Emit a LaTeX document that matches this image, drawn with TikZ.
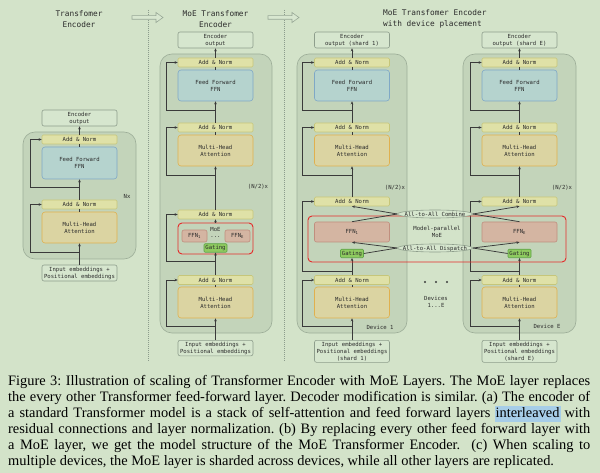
\documentclass[tikz,border=0pt]{standalone}
\usepackage{fontspec}
\setmainfont{Liberation Serif}
\newfontfamily\monof{DejaVu Sans Mono}
\usetikzlibrary{arrows.meta,shapes.geometric}
\definecolor{bgc}{HTML}{D3E3C9}
\definecolor{panf}{HTML}{C3D4BA}
\definecolor{pand}{HTML}{9DAE98}
\definecolor{plainf}{HTML}{D6E6CE}
\definecolor{plaind}{HTML}{8E9E8C}
\definecolor{anf}{HTML}{DFE1A7}
\definecolor{anbd}{HTML}{C6C67A}
\definecolor{ffnf}{HTML}{B5D3CE}
\definecolor{ffnd}{HTML}{7FA8C6}
\definecolor{mhaf}{HTML}{DBD4A2}
\definecolor{mhad}{HTML}{E0B04E}
\definecolor{expf}{HTML}{D4B5A2}
\definecolor{expd}{HTML}{C08E7E}
\definecolor{gatef}{HTML}{8FCB60}
\definecolor{gated}{HTML}{5DA346}
\definecolor{redc}{HTML}{E52A2A}
\definecolor{txtc}{HTML}{2B2B2B}
\definecolor{linec}{HTML}{3A3A3A}
\definecolor{harrf}{HTML}{D8E7D0}
\definecolor{harrd}{HTML}{98A896}
\definecolor{sepc}{HTML}{8C9C8C}
\definecolor{hlc}{HTML}{A6CDE8}
\newcommand\bxf{\monof\fontsize{5.6}{7}\selectfont}
\newcommand\ttlf{\monof\fontsize{7.8}{10.7}\selectfont}
\newcommand\capf{\fontsize{14.4}{16}\selectfont}
\newcommand\ellt[1]{\smash{\makebox[0pt]{\raisebox{-0.36em}{#1}}}}
\newcommand\hlword[1]{{\setlength{\fboxsep}{0pt}\kern-1pt\colorbox{hlc}{\strut\kern1pt #1\kern1pt}\kern-1pt}}
\tikzset{
 bx/.style={draw, inner sep=0pt, align=center, font=\bxf, text=txtc, line width=0.6pt},
 plainbox/.style={bx, fill=plainf, draw=plaind, rounded corners=2pt, minimum width=75, minimum height=16},
 anbox/.style={bx, fill=anf, draw=anbd, rounded corners=1.2pt, minimum width=75, minimum height=9},
 ffnbox/.style={bx, fill=ffnf, draw=ffnd, rounded corners=3pt, minimum width=75, minimum height=31},
 mhabox/.style={bx, fill=mhaf, draw=mhad, rounded corners=3pt, minimum width=75, minimum height=31},
 expbox/.style={bx, fill=expf, draw=expd, rounded corners=2pt},
 gatebox/.style={bx, fill=gatef, draw=gated, rounded corners=1pt, minimum width=23, minimum height=8.5},
 redbox/.style={draw=redc, line width=0.9pt, rounded corners=4pt, inner sep=0pt},
 panelst/.style={fill=panf, draw=pand, line width=0.6pt, rounded corners=12pt},
 flowarr/.style={draw=linec, line width=0.75pt, -{Stealth[length=3pt,width=2.6pt]}},
 connline/.style={draw=linec, line width=0.75pt},
 resarr/.style={draw=linec, line width=0.9pt, -{Stealth[length=3pt,width=2.6pt]}},
 lbl/.style={font=\bxf, text=txtc, inner sep=0pt, align=center},
 ttl/.style={font=\ttlf, text=txtc, inner sep=0pt},
 ellip/.style={ellipse, draw=plaind, fill=plainf, line width=0.6pt, inner sep=0pt, minimum width=75, minimum height=8, font=\bxf, text=txtc},
 harrow/.style={draw=harrd, fill=harrf, line width=0.6pt},
 sepline/.style={draw=sepc, line width=0.5pt, dash pattern=on 1pt off 1pt},
}
% upper part of a MoE / device stack
\newcommand\upperstack[4]{%
 \node[plainbox] (#1out) at (#2,40) {#4};
 \node[anbox] (#1an1) at (#2,62.5) {Add \& Norm};
 \node[ffnbox] (#1ffn) at (#2,85.5) {Feed Forward\\FFN};
 \node[anbox] (#1an2) at (#2,127.5) {Add \& Norm};
 \node[mhabox] (#1mha) at (#2,150.5) {Multi-Head\\Attention};
 \coordinate (#1r1) at (#2,110);
 \coordinate (#1r2) at (#2,175);
 \draw[resarr] (#1r1) -- (#3,110) |- (#1an1.west);
 \draw[resarr] (#1r2) -- (#3,175) |- (#1an2.west);
 \draw[flowarr] (#1an1.north) -- (#1out.south);
 \draw[connline] (#1ffn.north) -- (#1an1.south);
 \draw[flowarr] (#1an2.north) -- (#1ffn.south);
 \draw[connline] (#1mha.north) -- (#1an2.south);
}
\newcommand\lowerstack[5]{%
 \node[anbox] (#1an4) at (#2,280) {Add \& Norm};
 \node[mhabox] (#1mha2) at (#2,302.5) {Multi-Head\\Attention};
 \node[plainbox, minimum height=#5, anchor=north] (#1in) at (#2,340) {#4};
 \coordinate (#1r4) at (#2,326.5);
 \draw[resarr] (#1r4) -- (#3,326.5) |- (#1an4.west);
 \draw[flowarr] (#1in.north) -- (#1mha2.south);
 \draw[connline] (#1mha2.north) -- (#1an4.south);
}
\begin{document}
\begin{tikzpicture}[x=1pt,y=-1pt]
\useasboundingbox (0,0) rectangle (600,473);
\fill[bgc] (0,0) rectangle (600,473);
% separators and big arrows
\draw[sepline] (148,10) -- (148,362);
\draw[sepline] (284,10) -- (284,362);
\draw[harrow] (132,15.7) -- (156,15.7) -- (156,12.5) -- (163,17.5) -- (156,22.5) -- (156,19.3) -- (132,19.3) -- cycle;
\draw[harrow] (268,15.7) -- (292,15.7) -- (292,12.5) -- (299,17.5) -- (292,22.5) -- (292,19.3) -- (268,19.3) -- cycle;
% titles
\node[ttl, align=center] (t1) at (79,19) {Transfomer\\Encoder};
\node[ttl, align=center] (t2) at (215.5,19) {MoE Transfomer\\Encoder};
\node[ttl, align=left, anchor=west] (t3) at (383,19) {MoE Transfomer Encoder\\with device placement};

% ---------- left: Transformer encoder
\draw[panelst] (23,132) rectangle (136,259);
\node[plainbox] (lout) at (79.5,118) {Encoder\\output};
\node[anbox] (lan1) at (79.5,139.5) {Add \& Norm};
\node[ffnbox, minimum height=32] (lffn) at (79.5,163) {Feed Forward\\FFN};
\node[anbox] (lan2) at (79.5,204.5) {Add \& Norm};
\node[mhabox] (lmha) at (79.5,227.5) {Multi-Head\\Attention};
\node[plainbox] (lin) at (79.5,273) {Input embeddings +\\Positional embeddings};
\coordinate (lr1) at (79.5,187);
\coordinate (lr2) at (79.5,252);
\draw[resarr] (lr1) -- (30,187) |- (lan1.west);
\draw[resarr] (lr2) -- (30,252) |- (lan2.west);
\draw[flowarr] (lin.north) -- (lmha.south);
\draw[connline] (lmha.north) -- (lan2.south);
\draw[flowarr] (lan2.north) -- (lffn.south);
\draw[connline] (lffn.north) -- (lan1.south);
\draw[flowarr] (lan1.north) -- (lout.south);
\node[lbl] (lnx) at (127,196) {Nx};

% ---------- middle: MoE Transformer encoder
\draw[panelst] (160,54) rectangle (272,333);
\upperstack{m}{215.5}{166}{Encoder\\output}
\node[anbox] (man3) at (215.5,214.5) {Add \& Norm};
\node[redbox, minimum width=75, minimum height=31] (mmoe) at (215.5,238.5) {};
\node[lbl] (mmoel) at (215.5,229) {MoE};
\node[expbox, minimum width=25, minimum height=12] (mffa) at (194.5,236) {FFN\textsubscript{1}};
\node[expbox, minimum width=25, minimum height=12] (mffe) at (237.5,236) {FFN\textsubscript{E}};
\node[lbl] (mdots) at (215.5,237.5) {...};
\node[gatebox] (mgate) at (215.5,248) {Gating};
\lowerstack{m}{215.5}{166}{Input embeddings +\\Positional embeddings}{15.5}
\coordinate (mr3) at (215.5,261);
\draw[resarr] (mr3) -- (166,261) |- (man3.west);
\draw[flowarr] (man4.north) -- (mgate.south);
\draw[flowarr] (mmoe.north) -- (man3.south);
\draw[flowarr] (man3.north) -- (mmha.south);
\node[lbl] (mnx) at (258,187) {(N/2)x};

% ---------- right: device placement
\draw[panelst] (297,54) rectangle (407,333);
\draw[panelst] (463,54) rectangle (576,333);
% device 1
\upperstack{a}{352}{302}{Encoder\\output (shard 1)}
\node[anbox] (aan3) at (352,201.5) {Add \& Norm};
\node[expbox, minimum width=75, minimum height=20] (affn) at (352,232) {FFN\textsubscript{1}};
\node[gatebox] (agate) at (352,253.5) {Gating};
\lowerstack{a}{352}{302}{Input embeddings +\\Positional embeddings\\(shard 1)}{22}
\coordinate (ar3) at (352,271);
\draw[resarr] (ar3) -- (302,271) |- (aan3.west);
\draw[flowarr] (aan4.north) -- (agate.south);
\draw[flowarr] (aan3.north) -- (amha.south);
\node[lbl] (adev) at (380,327) {Device 1};
\node[lbl] (anx) at (395,188) {(N/2)x};
% device E
\upperstack{e}{519.5}{470}{Encoder\\output (shard E)}
\node[anbox] (ean3) at (519.5,201.5) {Add \& Norm};
\node[expbox, minimum width=75, minimum height=20] (effn) at (519.5,232) {FFN\textsubscript{E}};
\node[gatebox] (egate) at (519.5,253.5) {Gating};
\lowerstack{e}{519.5}{470}{Input embeddings +\\Positional embeddings\\(shard E)}{22}
\coordinate (er3) at (519.5,271);
\draw[resarr] (er3) -- (470,271) |- (ean3.west);
\draw[flowarr] (ean4.north) -- (egate.south);
\draw[flowarr] (ean3.north) -- (emha.south);
\node[lbl] (edev) at (547,326) {Device E};
\node[lbl] (enx) at (562,188) {(N/2)x};
% model-parallel MoE
\node[redbox, minimum width=258, minimum height=46] (moebox) at (437,239) {};
\node[ellip] (comb) at (435,214) {\ellt{All-to-All Combine}};
\node[ellip] (disp) at (435,248) {\ellt{All-to-All Dispatch}};
\node[lbl] (mpl) at (437,232) {Model-parallel\\MoE};
\draw[connline] (affn.north) -- (comb.west);
\draw[flowarr] (comb.west) -- (aan3.south);
\draw[connline] (agate.east) -- (disp.west);
\draw[flowarr] (disp.west) -- (affn.south);
\draw[connline] (effn.north) -- (comb.east);
\draw[flowarr] (comb.east) -- (ean3.south);
\draw[connline] (egate.west) -- (disp.east);
\draw[flowarr] (disp.east) -- (effn.south);
\fill[linec] (425,282) circle (1.1);
\fill[linec] (436,282) circle (1.1);
\fill[linec] (447,282) circle (1.1);
\node[lbl] (devs) at (436,302) {Devices\\1...E};

% ---------- caption
\node[anchor=north west, text width=582, inner sep=0pt, font=\capf, align=justify, text=black] (cap) at (8,375) {%
\frenchspacing\tolerance=10000\hbadness=10000\hyphenpenalty=10000
Figure 3: Illustration of scaling of Transformer Encoder with MoE Layers. The MoE layer replaces\linebreak
the every other Transformer feed-forward layer. Decoder modification is similar. (a) The encoder of\linebreak
a standard Transformer model is a stack of self-attention and feed forward layers \hlword{interleaved} with\linebreak
residual connections and layer normalization. (b) By replacing every other feed forward layer with\linebreak
a MoE layer, we get the model structure of the MoE Transformer Encoder.\ \ (c) When scaling to\linebreak
multiple devices, the MoE layer is sharded across devices, while all other layers are replicated.};
\end{tikzpicture}
\end{document}
